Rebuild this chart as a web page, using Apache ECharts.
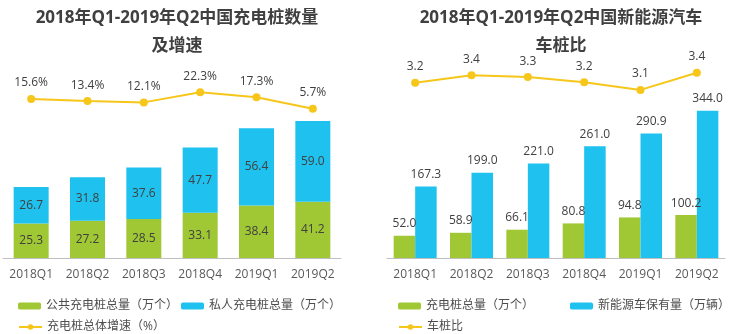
<!DOCTYPE html>
<html>
<head>
<meta charset="utf-8">
<script src="https://cdn.jsdelivr.net/npm/echarts@6/dist/echarts.min.js"></script>
<style>
  html, body { margin: 0; padding: 0; background: #fff; }
  #chart { width: 744px; height: 334px; }
</style>
</head>
<body>
<div id="chart"></div>
<script>
// categories
const quarters = ['2018Q1', '2018Q2', '2018Q3', '2018Q4', '2019Q1', '2019Q2'];

// left: charging piles (10k units) and growth rate (%)
const publicPiles = [25.3, 27.2, 28.5, 33.1, 38.4, 41.2];
const privatePiles = [26.7, 31.8, 37.6, 47.7, 56.4, 59.0];
const pileGrowth = [15.6, 13.4, 12.1, 22.3, 17.3, 5.7];

// right: pile total, NEV stock, vehicle-to-pile ratio
const pileTotal = [52.0, 58.9, 66.1, 80.8, 94.8, 100.2];
const nevStock = [167.3, 199.0, 221.0, 261.0, 290.9, 344.0];
const carPileRatio = [3.22, 3.38, 3.34, 3.23, 3.07, 3.43];

const GREEN = '#a0c834';
const CYAN = '#1fc2ef';
const YELLOW = '#f6c61a';
const FONT = "'Open Sans', 'Noto Sans CJK SC', sans-serif";
const labelColor = '#404040';

const chart = echarts.init(document.getElementById('chart'), null, { renderer: 'canvas' });

const xAxisBase = {
  type: 'category',
  data: quarters,
  axisLine: { lineStyle: { color: '#bfbfbf', width: 1 } },
  axisTick: { show: false },
  axisLabel: { color: '#595959', fontSize: 12, fontFamily: FONT, margin: 11, interval: 0 }
};

const hiddenY = {
  type: 'value',
  show: false,
  splitLine: { show: false }
};

const lineLabel = (fmt) => ({
  show: true,
  position: 'top',
  distance: 6,
  color: labelColor,
  fontSize: 12,
  fontFamily: FONT,
  formatter: fmt
});

const legendBase = {
  itemWidth: 23,
  itemHeight: 7,
  itemGap: 3,
  textStyle: { color: '#4d4d4d', fontSize: 12, fontFamily: FONT },
  selectedMode: false
};

const option = {
  animation: false,
  title: [
    {
      text: '2018年Q1-2019年Q2中国充电桩数量\n及增速',
      left: 172,
      top: -1,
      textAlign: 'center',
      textStyle: { fontSize: 17, fontWeight: 'bold', color: '#404040', lineHeight: 28, fontFamily: FONT }
    },
    {
      text: '2018年Q1-2019年Q2中国新能源汽车\n车桩比',
      left: 556,
      top: -1,
      textAlign: 'center',
      textStyle: { fontSize: 17, fontWeight: 'bold', color: '#404040', lineHeight: 28, fontFamily: FONT }
    }
  ],
  legend: [
    Object.assign({}, legendBase, { left: 13, top: 295, data: ['公共充电桩总量（万个）', '私人充电桩总量（万个）'] }),
    Object.assign({}, legendBase, { left: 13, top: 316, data: ['充电桩总体增速（%）'] }),
    Object.assign({}, legendBase, { left: 393, top: 295, itemGap: 36, data: ['充电桩总量（万个）', '新能源车保有量（万辆）'] }),
    Object.assign({}, legendBase, { left: 393, top: 316, data: ['车桩比'] })
  ],
  grid: [
    { left: 3, width: 338, top: 60, bottom: 76 },
    { left: 387, width: 338, top: 60, bottom: 76 }
  ],
  xAxis: [
    Object.assign({}, xAxisBase, { gridIndex: 0 }),
    Object.assign({}, xAxisBase, { gridIndex: 1 })
  ],
  yAxis: [
    Object.assign({}, hiddenY, { gridIndex: 0, min: 0, max: 144.8 }),
    Object.assign({}, hiddenY, { gridIndex: 0, min: -145.4, max: 55.0 }),
    Object.assign({}, hiddenY, { gridIndex: 1, min: 0, max: 462.6 }),
    Object.assign({}, hiddenY, { gridIndex: 1, min: -0.47, max: 3.70 })
  ],
  series: [
    {
      name: '公共充电桩总量（万个）',
      type: 'bar',
      stack: 'piles',
      xAxisIndex: 0,
      yAxisIndex: 0,
      barWidth: 35,
      data: publicPiles,
      itemStyle: { color: GREEN },
      label: { show: true, position: 'inside', color: labelColor, fontSize: 12, fontFamily: FONT, formatter: p => p.value.toFixed(1) }
    },
    {
      name: '私人充电桩总量（万个）',
      type: 'bar',
      stack: 'piles',
      xAxisIndex: 0,
      yAxisIndex: 0,
      barWidth: 35,
      data: privatePiles,
      itemStyle: { color: CYAN },
      label: { show: true, position: 'inside', color: labelColor, fontSize: 12, fontFamily: FONT, formatter: p => p.value.toFixed(1) }
    },
    {
      name: '充电桩总体增速（%）',
      type: 'line',
      xAxisIndex: 0,
      yAxisIndex: 1,
      data: pileGrowth,
      symbol: 'circle',
      symbolSize: 8,
      lineStyle: { color: YELLOW, width: 2 },
      itemStyle: { color: YELLOW },
      label: lineLabel(p => p.value.toFixed(1) + '%')
    },
    {
      name: '充电桩总量（万个）',
      type: 'bar',
      xAxisIndex: 1,
      yAxisIndex: 2,
      barWidth: 21.5,
      barGap: '0%',
      data: pileTotal,
      itemStyle: { color: GREEN },
      label: { show: true, position: 'top', distance: 6, color: labelColor, fontSize: 12, fontFamily: FONT, formatter: p => p.value.toFixed(1) }
    },
    {
      name: '新能源车保有量（万辆）',
      type: 'bar',
      xAxisIndex: 1,
      yAxisIndex: 2,
      barWidth: 21.5,
      barGap: '0%',
      data: nevStock,
      itemStyle: { color: CYAN },
      label: { show: true, position: 'top', distance: 6, color: labelColor, fontSize: 12, fontFamily: FONT, formatter: p => p.value.toFixed(1) }
    },
    {
      name: '车桩比',
      type: 'line',
      xAxisIndex: 1,
      yAxisIndex: 3,
      data: carPileRatio,
      symbol: 'circle',
      symbolSize: 8,
      lineStyle: { color: YELLOW, width: 2 },
      itemStyle: { color: YELLOW },
      label: lineLabel(p => p.value.toFixed(1))
    }
  ]
};

chart.setOption(option);
</script>
</body>
</html>
